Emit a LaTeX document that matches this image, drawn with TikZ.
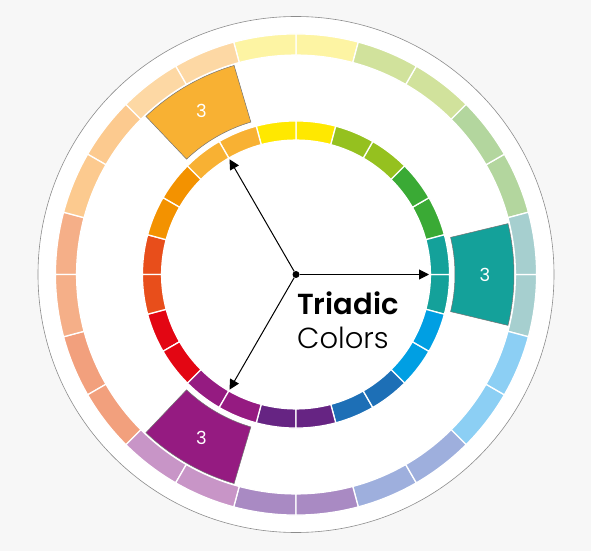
\documentclass[tikz,border=0pt]{standalone}
\usepackage{fontspec}
\setmainfont{Poppins}
\newfontfamily\thinfont{Poppins Light}
\newfontfamily\semifont{Poppins SemiBold}
\usetikzlibrary{arrows.meta}
% full tones (inner ring, highlighted blocks)
\definecolor{cYel}{HTML}{FFE800}
\definecolor{cYelGrn}{HTML}{95C11F}
\definecolor{cGrn}{HTML}{3AAA35}
\definecolor{cTeal}{HTML}{14A19A}
\definecolor{cCyan}{HTML}{009FE3}
\definecolor{cBlue}{HTML}{1D6FB6}
\definecolor{cViol}{HTML}{662483}
\definecolor{cPurp}{HTML}{951B81}
\definecolor{cRed}{HTML}{E30613}
\definecolor{cRedOr}{HTML}{E84E1B}
\definecolor{cOr}{HTML}{F39200}
\definecolor{cYelOr}{HTML}{F8B133}
% pale tones (outer ring)
\definecolor{pYel}{HTML}{FDF4A3}
\definecolor{pYelGrn}{HTML}{D1E29C}
\definecolor{pGrn}{HTML}{B3D69E}
\definecolor{pTeal}{HTML}{A6CFCF}
\definecolor{pCyan}{HTML}{8CCFF4}
\definecolor{pBlue}{HTML}{9EAFDD}
\definecolor{pViol}{HTML}{A98AC3}
\definecolor{pPurp}{HTML}{C895C7}
\definecolor{pRed}{HTML}{F2A07D}
\definecolor{pRedOr}{HTML}{F5AF88}
\definecolor{pOr}{HTML}{FCCA8F}
\definecolor{pYelOr}{HTML}{FDD8A4}
\definecolor{bgGray}{HTML}{F7F7F7}

\begin{document}
\begin{tikzpicture}[x=1pt,y=1pt,every node/.style={inner sep=0pt},
  seg/.style={draw=white,line width=1.3pt},
  hilite/.style={draw=black!55,line width=0.5pt},
  num/.style={text=white,font=\fontsize{18}{18}\selectfont},
  dot/.style={circle,fill=black,minimum size=7pt},
  tip/.style={-{Triangle[length=10pt,width=10pt]},line width=1pt}]
\fill[bgGray] (-296,-276.5) rectangle (295,274.5);
\useasboundingbox (-296,-276.5) rectangle (295,274.5);
\draw[black!45,fill=white,line width=0.6pt] (0,0) circle (258);
% the two rings, each colour split in two
\foreach \a/\ci/\co in {90/cYel/pYel,60/cYelGrn/pYelGrn,30/cGrn/pGrn,0/cTeal/pTeal,
  -30/cCyan/pCyan,-60/cBlue/pBlue,-90/cViol/pViol,-120/cPurp/pPurp,
  -150/cRed/pRed,180/cRedOr/pRedOr,150/cOr/pOr,120/cYelOr/pYelOr}{
  \foreach \s in {-15,0}{
    \filldraw[seg,fill=\ci] (\a+\s:134.4) arc[start angle=\a+\s,end angle=\a+\s+15,radius=134.4]
      -- (\a+\s+15:153.6) arc[start angle=\a+\s+15,end angle=\a+\s,radius=153.6] -- cycle;
    \filldraw[seg,fill=\co] (\a+\s:219.4) arc[start angle=\a+\s,end angle=\a+\s+15,radius=219.4]
      -- (\a+\s+15:240.6) arc[start angle=\a+\s+15,end angle=\a+\s,radius=240.6] -- cycle;
  };
};
% the three triadic blocks
\foreach \a/\ci in {0/cTeal,120/cYelOr,240/cPurp}{
  \filldraw[hilite,fill=\ci] (\a-13.5:159) arc[start angle=\a-13.5,end angle=\a+13.5,radius=159]
    -- (\a+13.5:218) arc[start angle=\a+13.5,end angle=\a-13.5,radius=218] -- cycle;
  \node[num] (n\a) at (\a:189) {3};
  \coordinate (t\a) at (\a:133);
};
\node[dot] (c) at (0,0) {};
\foreach \a in {0,120,240}{
  \draw[tip] (c) -- (t\a);};
\node[anchor=base west,font=\semifont\fontsize{29}{29}\selectfont] (ttl) at (1,-40.5) {Triadic};
\node[anchor=base west,font=\thinfont\fontsize{29}{29}\selectfont] (sub) at (1,-73.5) {Colors};
\end{tikzpicture}
\end{document}
